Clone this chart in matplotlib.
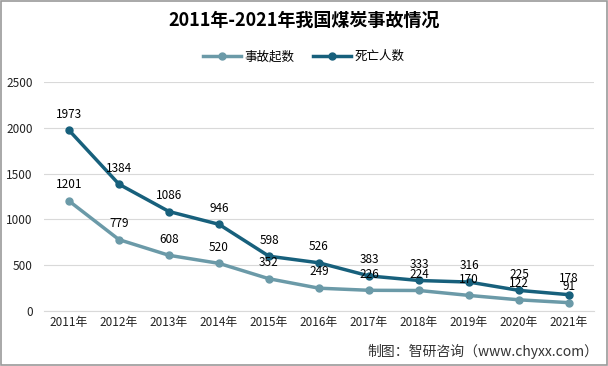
import matplotlib
matplotlib.use('Agg')
import matplotlib.pyplot as plt

plt.rcParams['font.family'] = ['Noto Sans CJK SC', 'DejaVu Sans']

years = ['2011年', '2012年', '2013年', '2014年', '2015年', '2016年',
         '2017年', '2018年', '2019年', '2020年', '2021年']
accidents = [1201, 779, 608, 520, 352, 249, 226, 224, 170, 122, 91]
deaths = [1973, 1384, 1086, 946, 598, 526, 383, 333, 316, 225, 178]

c_acc = '#6b9aa8'
c_death = '#17607c'

fig = plt.figure(figsize=(6.08, 3.66), dpi=100)
ax = fig.add_axes([44 / 608, 55 / 366, 550 / 608, 229 / 366])

x = range(len(years))
ax.plot(x, accidents, color=c_acc, lw=2.5, marker='o', ms=5, label='事故起数')
ax.plot(x, deaths, color=c_death, lw=2.5, marker='o', ms=5, label='死亡人数')

for i in x:
    ax.annotate(str(accidents[i]), (i, accidents[i]), xytext=(0, 7),
                textcoords='offset points', ha='center', va='bottom', fontsize=8.5)
    ax.annotate(str(deaths[i]), (i, deaths[i]), xytext=(0, 7),
                textcoords='offset points', ha='center', va='bottom', fontsize=8.5)

ax.set_xlim(-0.5, len(years) - 0.5)
ax.set_ylim(0, 2500)
ax.set_yticks([0, 500, 1000, 1500, 2000, 2500])
ax.set_xticks(list(x))
ax.set_xticklabels(years)
ax.tick_params(length=0, labelsize=8.5, colors='#222222')
ax.tick_params(axis='y', pad=8)
ax.grid(axis='y', color='#d9d9d9', lw=0.8)
ax.set_axisbelow(True)
for s in ax.spines.values():
    s.set_visible(False)
ax.spines['bottom'].set_visible(True)
ax.spines['bottom'].set_color('#d9d9d9')

fig.text(0.5, 0.945, '2011年-2021年我国煤炭事故情况', ha='center', va='center',
         fontsize=13, fontweight='bold')
fig.legend(loc='center', bbox_to_anchor=(0.5, 0.845), ncol=2, frameon=False,
           fontsize=9, handlelength=3, columnspacing=1.5, handletextpad=0.3)
fig.text(0.985, 0.04, '制图：智研咨询（www.chyxx.com）', ha='right', va='center',
         fontsize=10, color='#333333')

border = plt.Rectangle((0.002, 0.003), 0.996, 0.994, transform=fig.transFigure,
                       fill=False, edgecolor='#9a9a9a', lw=1.2)
fig.patches.append(border)

fig.savefig('out.png', dpi=100)
